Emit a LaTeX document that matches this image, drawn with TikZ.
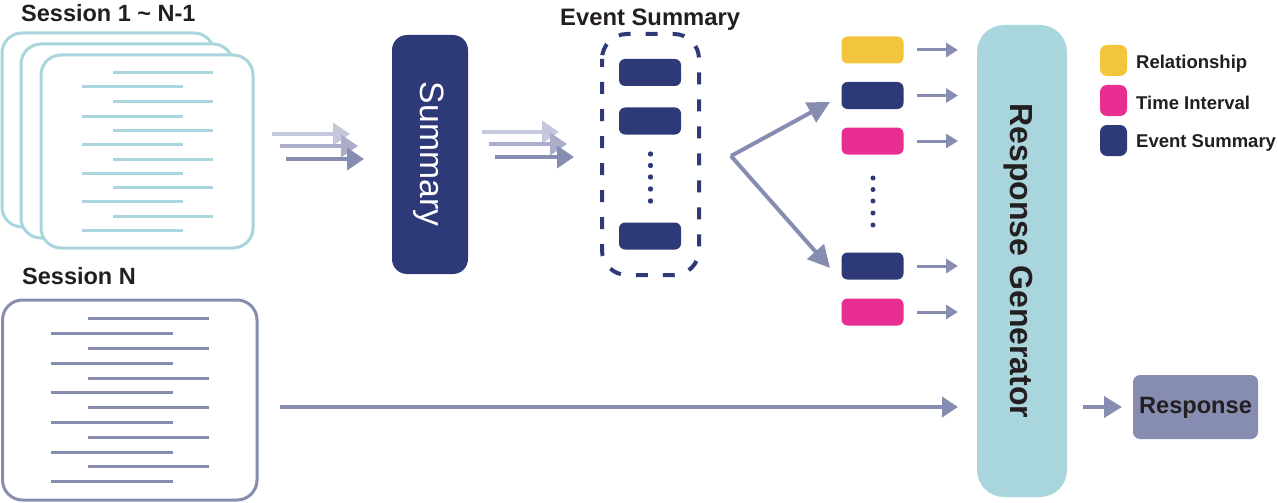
\documentclass[tikz,border=0pt]{standalone}
\usepackage{fontspec}
\setmainfont{Liberation Sans}
\usetikzlibrary{arrows.meta}
\definecolor{navy}{HTML}{2E3A78}
\definecolor{teal}{HTML}{A9D5DC}
\definecolor{slate}{HTML}{878DB0}
\definecolor{yel}{HTML}{F2C53D}
\definecolor{pink}{HTML}{E92E93}
\definecolor{slateA}{HTML}{C5C8DC}
\definecolor{slateB}{HTML}{ABAECB}
\definecolor{ink}{HTML}{231F20}
\newcommand{\fsz}[1]{\fontsize{#1}{#1}\selectfont}
\tikzset{
  x=1pt,y=-1pt,
  box/.style={draw=none,inner sep=0pt,outer sep=0pt,rounded corners=#1},
  page/.style={draw=teal,line width=3pt,fill=white,rounded corners=20pt},
  pagerule/.style={draw=teal,line width=3pt},
  nrule/.style={draw=slate,line width=3pt},
  bar/.style={box=6pt,fill=#1},
  key/.style={box=7pt,fill=#1},
  title/.style={anchor=west,inner sep=0pt,font=\fsz{23.5}\bfseries,text=ink},
  keytext/.style={anchor=west,inner sep=0pt,font=\fsz{18.5}\bfseries,text=ink},
  small arrow/.style={draw=slate,line width=3pt,-{Triangle[length=12pt,width=14pt]}},
  fork arrow/.style={draw=slate,line width=4pt,-{Triangle[length=22pt,width=22pt]}},
  flow/.style={draw=#1,line width=4pt,-{Triangle[length=17pt,width=22pt]}},
}
\begin{document}
\begin{tikzpicture}
\useasboundingbox (0,0) rectangle (1278,503);
% stacked pages
\draw[page] (2,33) rectangle (214,227);
\draw[page] (21,44) rectangle (233,238);
\draw[page] (41,55) rectangle (253,248);
\foreach \y in {73,102,130,159,187,216} \draw[pagerule] (113,\y) -- (213,\y);
\foreach \y in {87,116,144,173,201,230} \draw[pagerule] (82,\y) -- (183,\y);
% session N
\draw[draw=slate,line width=3pt,rounded corners=20pt] (2.5,300) rectangle (257,500);
\foreach \y in {318,348,378,407,437,466} \draw[nrule] (88,\y) -- (209,\y);
\foreach \y in {333,363,392,422,452,481} \draw[nrule] (51,\y) -- (173,\y);
% titles
\node[title] (t1) at (21,13) {Session 1 \textasciitilde{} N-1};
\node[title] (t2) at (22,276.5) {Session N};
\node[title,font=\fsz{23.8}\bfseries] (t3) at (560,20) {Event Summary};
% summary
\path[fill=navy,rounded corners=15pt] (392,35) rectangle (468,274);
\node[rotate=-90,inner sep=0pt,font=\fsz{33.7},text=white] (summary) at (429,154) {Summary};
% event summary group
\draw[draw=navy,line width=4pt,rounded corners=25pt,dash pattern=on 12pt off 15pt,dash phase=4pt] (602,34) rectangle (699,275);
\foreach \n/\y in {a/72.5,b/121,c/236}
  \node[bar=navy,minimum width=62pt,minimum height=27pt] (e\n) at (650,\y) {};
\foreach \y in {154,165.5,177,189,201} \fill[navy] (650.5,\y) circle (2.7pt);
% right bars
\node[bar=yel,minimum width=62pt,minimum height=27pt] (r1) at (872.5,50) {};
\node[bar=navy,minimum width=62pt,minimum height=27pt] (r2) at (872.5,95.5) {};
\node[bar=pink,minimum width=62pt,minimum height=27pt] (r3) at (872.5,141) {};
\node[bar=navy,minimum width=62pt,minimum height=27pt] (r4) at (872.5,266) {};
\node[bar=pink,minimum width=62pt,minimum height=27pt] (r5) at (872.5,312) {};
\foreach \y in {178,189.5,201,213,225} \fill[navy] (873,\y) circle (2.5pt);
% response generator
\node[box=27pt,fill=teal,minimum width=90pt,minimum height=472pt] (gen) at (1022,261) {};
\node[rotate=-90,inner sep=0pt,font=\fsz{32}\bfseries,text=ink] (gentext) at (1018,261) {Response Generator};
% response
\node[box=7pt,fill=slate,minimum width=125pt,minimum height=64pt] (resp) at (1195.5,407) {};
\node[inner sep=0pt,font=\fsz{23.6}\bfseries,text=ink] (resptext) at (1195.5,408) {Response};
% legend
\node[key=yel,minimum width=27pt,minimum height=31pt] (k1) at (1113.5,60.5) {};
\node[key=pink,minimum width=27pt,minimum height=31pt] (k2) at (1113.5,100.5) {};
\node[key=navy,minimum width=27pt,minimum height=31pt] (k3) at (1113.5,140.5) {};
\node[keytext] (l1) at (1136,63.5) {Relationship};
\node[keytext] (l2) at (1136,102.5) {Time Interval};
\node[keytext] (l3) at (1136,142.5) {Event Summary};
% coordinates
\coordinate (f1s) at (272,134); \coordinate (f1e) at (350,134);
\coordinate (f2s) at (280,146); \coordinate (f2e) at (358,146);
\coordinate (f3s) at (286,159); \coordinate (f3e) at (364,159);
\coordinate (g1s) at (482,132); \coordinate (g1e) at (559,132);
\coordinate (g2s) at (489,144); \coordinate (g2e) at (567,144);
\coordinate (g3s) at (495,157); \coordinate (g3e) at (574,157);
\coordinate (apex) at (731,156);
\coordinate (up) at (830,102);
\coordinate (down) at (830,268);
\coordinate (ls) at (280,407); \coordinate (le) at (958,407);
\coordinate (os) at (1083,407); \coordinate (oe) at (1122,407);
% flows
\draw[flow=slateA] (f1s) -- (f1e);
\draw[flow=slateB] (f2s) -- (f2e);
\draw[flow=slate] (f3s) -- (f3e);
\draw[flow=slateA] (g1s) -- (g1e);
\draw[flow=slateB] (g2s) -- (g2e);
\draw[flow=slate] (g3s) -- (g3e);
\draw[fork arrow] (apex) -- (up);
\draw[fork arrow] (apex) -- (down);
\foreach \n/\y in {1/50,2/95.5,3/141,4/266,5/312} {
  \coordinate (as\n) at (917,\y);
  \coordinate (ae\n) at (958,\y);
  \draw[small arrow] (as\n) -- (ae\n);
}
\draw[draw=slate,line width=4pt,-{Triangle[length=16pt,width=20pt]}] (ls) -- (le);
\draw[draw=slate,line width=4pt,-{Triangle[length=18pt,width=21pt]}] (os) -- (oe);
\end{tikzpicture}
\end{document}
